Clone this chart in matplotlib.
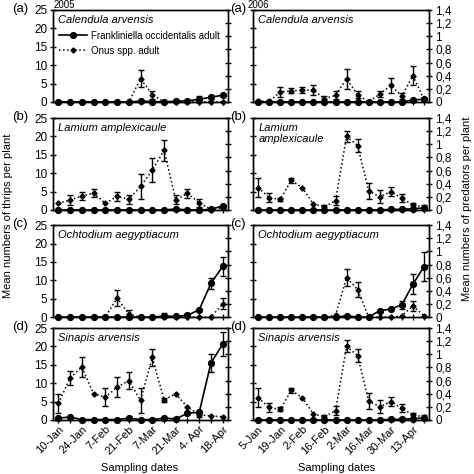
#!/usr/bin/env python3

import numpy as np
import matplotlib
matplotlib.use("Agg")
import matplotlib.pyplot as plt

plt.rcParams["font.family"] = ["Liberation Sans", "DejaVu Sans"]

# tick labels (every second sampling date is labelled)
labels_2005 = ["10-Jan", "24-Jan", "7-Feb", "21-Feb", "7-Mar", "21-Mar", "4- Apr", "18-Apr"]
labels_2006 = ["5-Jan", "19-Jan", "2-Feb", "16-Feb", "2-Mar", "16-Mar", "30-Mar", "13-Apr"]
n_2005 = 15
n_2006 = 16

species = ["Calendula arvensis", "Lamium amplexicaule", "Ochtodium aegyptiacum", "Sinapis arvensis"]
species_2006 = ["Calendula arvensis", "Lamium\namplexicaule", "Ochtodium aegyptiacum", "Sinapis arvensis"]
panel_tags = ["(a)", "(b)", "(c)", "(d)"]

# 2005, read on the thrips axis (0-25)
cal05_fo = [0, 0, 0, 0, 0, 0, 0, 0.2, 0.1, 0, 0.2, 0.3, 0.7, 1.3, 1.8]
cal05_fo_err = [0, 0, 0, 0, 0, 0, 0, 0, 0, 0, 0, 0, 0.8, 0.4, 0.3]
cal05_on = [0, 0, 0, 0, 0, 0, 0, 6.3, 2.0, 0, 0, 0, 0, 0, 0]
cal05_on_err = [0, 0, 0, 0, 0, 0, 0, 2.3, 1.1, 0, 0, 0, 0, 0, 0]

lam05_fo = [0, 0, 0, 0, 0, 0, 0, 0, 0, 0, 0.3, 0, 0, 0.2, 1.1]
lam05_fo_err = [0] * 15
lam05_on = [1.8, 2.7, 3.8, 4.6, 1.8, 3.7, 2.9, 6.4, 10.8, 16.2, 2.8, 4.5, 2.0, 0.1, 0.5]
lam05_on_err = [0, 1.4, 1.2, 1.0, 0, 1.2, 1.2, 3.5, 3.3, 2.9, 1.2, 1.3, 1.1, 0, 0]

och05_fo = [0, 0, 0, 0, 0, 0, 0, 0, 0, 0.3, 0.2, 0.5, 2.0, 9.2, 13.8]
och05_fo_err = [0, 0, 0, 0, 0, 0, 0, 0, 0, 0.8, 0, 0.4, 0, 1.5, 2.6]
och05_on = [0, 0, 0, 0, 0, 5.2, 0.8, 0, 0, 0, 0, 0, 0, 0, 3.6]
och05_on_err = [0, 0, 0, 0, 0, 2.1, 1.0, 0, 0, 0, 0, 0, 0, 0, 1.5]

sin05_fo = [0.5, 0.8, 0.1, 0.1, 0.1, 0.1, 0.5, 0.1, 0.1, 0.5, 0.3, 1.8, 2.1, 15.5, 20.6]
sin05_fo_err = [0, 0, 0, 0, 0, 0, 0, 0, 0, 0, 0, 0, 0, 2.5, 3.3]
sin05_on = [4.5, 11.4, 14.4, 7.1, 6.2, 8.9, 10.7, 5.3, 17.0, 5.5, 7.1, 3.5, 1.4, 1.1, 0.9]
sin05_on_err = [2.5, 1.8, 2.7, 0, 2.5, 2.7, 2.3, 3.5, 2.3, 0.6, 0, 0, 0.6, 0, 0]

# 2006, read on the predator axis (0-1.4)
cal06_fo = [0, 0, 0, 0, 0, 0, 0, 0, 0, 0, 0, 0, 0, 0, 0.03, 0.04]
cal06_fo_err = [0] * 16
cal06_on = [0.01, 0.01, 0.15, 0.17, 0.18, 0.18, 0.05, 0.1, 0.35, 0.11, 0.0, 0.12, 0.25, 0.09, 0.4, 0.04]
cal06_on_err = [0, 0, 0.07, 0.04, 0.04, 0.07, 0.04, 0.06, 0.15, 0.05, 0, 0.05, 0.12, 0.05, 0.15, 0]

lam06_fo = [0, 0, 0, 0, 0, 0, 0, 0, 0, 0, 0, 0, 0.01, 0.01, 0.02, 0.03]
lam06_fo_err = [0] * 16
lam06_on = [0.34, 0.19, 0.16, 0.45, 0.34, 0.09, 0.05, 0.14, 1.12, 0.98, 0.29, 0.2, 0.28, 0.18, 0.07, 0.05]
lam06_on_err = [0.14, 0.07, 0.03, 0.04, 0, 0, 0.03, 0.07, 0.09, 0.1, 0.12, 0.1, 0.07, 0.06, 0.04, 0.02]

och06_fo = [0, 0, 0, 0, 0, 0, 0, 0, 0.02, 0, 0, 0.1, 0.12, 0.19, 0.5, 0.77]
och06_fo_err = [0, 0, 0, 0, 0, 0, 0, 0, 0, 0, 0, 0, 0, 0.06, 0.15, 0.22]
och06_on = [0, 0, 0, 0, 0, 0, 0, 0.03, 0.6, 0.42, 0.0, 0, 0, 0.02, 0.17, 0.02]
och06_on_err = [0, 0, 0, 0, 0, 0, 0, 0, 0.13, 0.12, 0, 0, 0, 0, 0.07, 0]

sin06_fo = [0, 0, 0, 0, 0, 0, 0, 0, 0, 0, 0, 0, 0.01, 0.01, 0.02, 0.03]
sin06_fo_err = [0] * 16
sin06_on = [0.34, 0.19, 0.16, 0.45, 0.34, 0.09, 0.05, 0.14, 1.12, 0.98, 0.29, 0.2, 0.28, 0.18, 0.07, 0.05]
sin06_on_err = [0.14, 0.07, 0.03, 0.04, 0, 0, 0.03, 0.07, 0.09, 0.1, 0.12, 0.1, 0.07, 0.06, 0.04, 0.02]

data_2005 = [
    (cal05_fo, cal05_fo_err, cal05_on, cal05_on_err),
    (lam05_fo, lam05_fo_err, lam05_on, lam05_on_err),
    (och05_fo, och05_fo_err, och05_on, och05_on_err),
    (sin05_fo, sin05_fo_err, sin05_on, sin05_on_err),
]
data_2006 = [
    (cal06_fo, cal06_fo_err, cal06_on, cal06_on_err),
    (lam06_fo, lam06_fo_err, lam06_on, lam06_on_err),
    (och06_fo, och06_fo_err, och06_on, och06_on_err),
    (sin06_fo, sin06_fo_err, sin06_on, sin06_on_err),
]

FS = 8
TICK_FS = 8.5


def draw_series(ax, fo, fo_err, on, on_err):
    x = np.arange(len(fo))
    fo = np.array(fo, float)
    on = np.array(on, float)
    fo_err = np.array(fo_err, float)
    on_err = np.array(on_err, float)
    l1, = ax.plot(x, fo, "-", color="black", lw=1.2, marker="o", ms=4.2,
                  clip_on=False, zorder=4, label="Frankliniella occidentalis adult")
    l2, = ax.plot(x, on, ":", color="black", lw=1.1, marker="D", ms=2.6,
                  clip_on=False, zorder=5, label="Onus spp. adult")
    for y, e in ((fo, fo_err), (on, on_err)):
        m = e > 0
        ax.errorbar(x[m], y[m], yerr=e[m], fmt="none", ecolor="black",
                    elinewidth=1, capsize=2.5, capthick=1, zorder=6)
    return l1, l2


def style_axes(ax, ax2, n, show_left, show_xlabels, labels):
    ax.set_xlim(-0.45, n - 0.55)
    ax.set_ylim(0, 25)
    ax.set_yticks(np.arange(0, 26, 5))
    ax2.set_ylim(0, 1.4)
    ax2.set_yticks(np.arange(0, 1.41, 0.2))
    ax2.set_yticklabels([f"{v:g}".replace(".", ",") for v in np.round(np.arange(0, 1.41, 0.2), 1)])
    ax.tick_params(axis="y", direction="inout", length=5, width=1, labelsize=TICK_FS,
                   pad=1.5, labelleft=show_left)
    ax2.tick_params(axis="y", direction="inout", length=5, width=1, labelsize=TICK_FS,
                    pad=2, labelright=not show_left)
    ax.set_xticks(np.arange(0, n, 2))
    ax.set_xticks(np.arange(n), minor=True)
    ax.tick_params(axis="x", which="both", direction="inout", length=4, width=1,
                   labelsize=FS, pad=1)
    if show_xlabels:
        ax.set_xticklabels(labels, rotation=45, ha="right", rotation_mode="anchor")
    else:
        ax.set_xticklabels([])
    for a in (ax, ax2):
        for s in a.spines.values():
            s.set_linewidth(1)


def main():
    fig = plt.figure(figsize=(4.74, 4.74), dpi=100)
    bottoms = [0.785, 0.557, 0.331, 0.114]
    height = 0.194
    cols = [(0.112, 0.369, n_2005, labels_2005, data_2005, species, True),
            (0.534, 0.371, n_2006, labels_2006, data_2006, species_2006, False)]

    for left, width, n, labels, data, names, is_left in cols:
        for k, b in enumerate(bottoms):
            ax = fig.add_axes([left, b, width, height])
            ax2 = ax.twinx()
            style_axes(ax, ax2, n, is_left, k == 3, labels)
            fo, fo_err, on, on_err = data[k]
            target = ax if is_left else ax2
            handles = draw_series(target, fo, fo_err, on, on_err)
            ax.text(0.03, 0.95, names[k], transform=ax.transAxes, va="top",
                    ha="left", fontsize=FS, style="italic", zorder=10)
            tag_x = 0.042 if is_left else 0.502
            fig.text(tag_x, b + height + 0.003, panel_tags[k], fontsize=9.5,
                     ha="center", va="center")
            if is_left and k == 0:
                ax.legend(handles, [h.get_label() for h in handles], loc="upper left",
                          bbox_to_anchor=(0.0, 0.84), frameon=False, fontsize=7,
                          handlelength=2.9, labelspacing=0.55, handletextpad=0.4,
                          borderaxespad=0.2)

    fig.text(0.113, 0.999, "2005", fontsize=7, ha="left", va="top")
    fig.text(0.522, 0.999, "2006", fontsize=7, ha="left", va="top")
    fig.text(0.017, 0.545, "Mean numbers of thrips per plant", rotation=90,
             fontsize=FS, ha="center", va="center")
    fig.text(0.985, 0.56, "Mean numbers of predators per plant", rotation=90,
             fontsize=FS, ha="center", va="center")
    fig.text(0.295, 0.012, "Sampling dates", fontsize=FS, ha="center", va="center")
    fig.text(0.709, 0.012, "Sampling dates", fontsize=FS, ha="center", va="center")

    fig.savefig("out.png", dpi=100)


if __name__ == "__main__":
    main()
